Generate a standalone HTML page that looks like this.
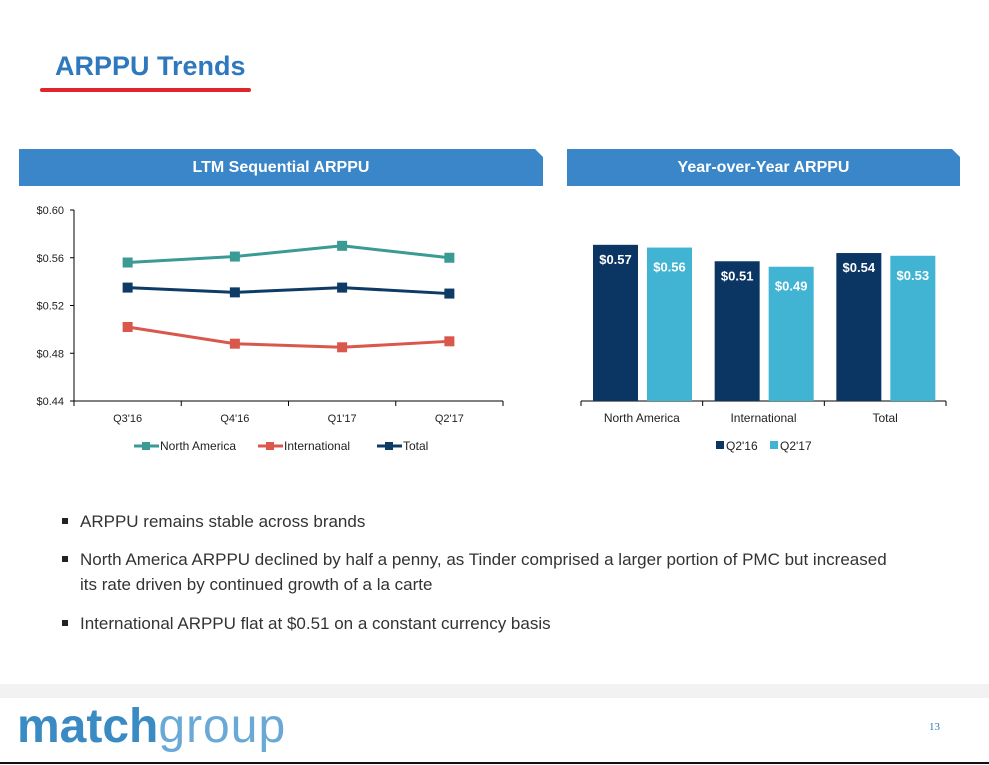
<!DOCTYPE html>
<html><head><meta charset="utf-8"><style>
body{margin:0;width:989px;height:765px;position:relative;background:#fff;font-family:"Liberation Sans",sans-serif;overflow:hidden}
.abs{position:absolute}
.hdr{position:absolute;top:149px;height:37px;background:#3a86c8;color:#fff;font-weight:bold;font-size:16px;line-height:37px;text-align:center;clip-path:polygon(0 0,calc(100% - 8px) 0,100% 8px,100% 100%,0 100%)}
.bul{position:absolute;left:62px;font-size:17px;color:#333;line-height:25px;width:880px}
.bul span.sq{position:absolute;left:0;top:9px;width:6px;height:6px;background:#222}
.bul div{margin-left:18px}
</style></head><body>
<div class="abs" style="left:55px;top:51px;font-size:27px;font-weight:bold;color:#2e78bd">ARPPU Trends</div>
<div class="abs" style="left:40px;top:88px;width:211px;height:4px;background:#e0262b;border-radius:2px"></div>
<div class="hdr" style="left:19px;width:524px">LTM Sequential ARPPU</div>
<div class="hdr" style="left:567px;width:393px">Year-over-Year ARPPU</div>
<svg class="abs" style="left:0;top:0" width="989" height="480" id="charts"></svg>
<div class="bul" style="top:509px"><span class="sq"></span><div>ARPPU remains stable across brands</div></div>
<div class="bul" style="top:547px"><span class="sq"></span><div>North America ARPPU declined by half a penny, as Tinder comprised a larger portion of PMC but increased<br>its rate driven by continued growth of a la carte</div></div>
<div class="bul" style="top:611px"><span class="sq"></span><div>International ARPPU flat at $0.51 on a constant currency basis</div></div>
<div class="abs" style="left:0;top:684px;width:989px;height:14px;background:#f2f2f2"></div>
<div class="abs" style="left:17px;top:699px;font-size:48px;color:#3a8bc4;letter-spacing:0px"><b>match</b><span style="font-weight:normal;color:#6aa9d6;letter-spacing:1px">group</span></div>
<div class="abs" style="left:929px;top:721px;font-size:11px;color:#2e78bd;font-family:'Liberation Serif',serif">13</div>
<div class="abs" style="left:0;top:762px;width:989px;height:2px;background:#111"></div>
<script>
const lineCats=["Q3'16","Q4'16","Q1'17","Q2'17"];
const northAmerica=[0.556,0.561,0.570,0.560];
const international=[0.502,0.488,0.485,0.490];
const total=[0.535,0.531,0.535,0.530];
const yTicks=[0.44,0.48,0.52,0.56,0.60];
const barCats=["North America","International","Total"];
const q216=[0.57,0.51,0.54];
const q217=[0.56,0.49,0.53];
const NS="http://www.w3.org/2000/svg";
const svg=document.getElementById('charts');
function mk(t,a,txt){const e=document.createElementNS(NS,t);for(const k in a)e.setAttribute(k,a[k]);if(txt!=null)e.textContent=txt;svg.appendChild(e);return e;}
const X0=74,X1=503,Y0=401,Y1=210;
const ly=v=>Y0-(v-0.44)/(0.16)*(Y0-Y1);
const step=(X1-X0)/lineCats.length;
const lx=i=>X0+step*(i+0.5);
let e=mk('line',{x1:X0,y1:Y1,x2:X0,y2:Y0,stroke:'#000'});


e=mk('line',{x1:X0,y1:Y0,x2:X1,y2:Y0,stroke:'#000'});


yTicks.forEach(t=>{mk('line',{x1:X0-4,x2:X0,y1:ly(t),y2:ly(t),stroke:'#000'});
 e=mk('text',{x:X0-10,y:ly(t)+4,'text-anchor':'end','font-size':11,fill:'#222'},'$'+t.toFixed(2));
 
 });
for(let i=0;i<=lineCats.length;i++)mk('line',{x1:X0+step*i,x2:X0+step*i,y1:Y0,y2:Y0+5,stroke:'#000'});
lineCats.forEach((c,i)=>{e=mk('text',{x:lx(i),y:Y0+21,'text-anchor':'middle','font-size':11,fill:'#222'},c);
 
 });
const series=[[northAmerica,'#3a9a94','north-america'],[international,'#d9574b','international'],[total,'#0e3a66','total']];
series.forEach(([d,col,n])=>{
 e=mk('polyline',{points:d.map((v,i)=>lx(i)+','+ly(v)).join(' '),fill:'none',stroke:col,'stroke-width':3});
 
 
 d.forEach((v,i)=>{e=mk('rect',{x:lx(i)-5,y:ly(v)-5,width:10,height:10,fill:col});
  
  });
});
const leg=[['North America',134],['International',258],['Total',377]];
series.forEach(([d,col,n],k)=>{const x=leg[k][1];
 mk('line',{x1:x,x2:x+25,y1:446,y2:446,stroke:col,'stroke-width':3});
 mk('rect',{x:x+8,y:442,width:8,height:8,fill:col});
 e=mk('text',{x:x+26,y:450,'font-size':12,fill:'#222'},leg[k][0]);
 
 });
const BX0=581,BX1=946,BY0=401,scale=274;
const gw=(BX1-BX0)/barCats.length;
const by=v=>BY0-v*scale;
e=mk('line',{x1:BX0,x2:BX1,y1:BY0,y2:BY0,stroke:'#000'});


for(let i=0;i<=barCats.length;i++)mk('line',{x1:BX0+gw*i,x2:BX0+gw*i,y1:BY0,y2:BY0+5,stroke:'#000'});
barCats.forEach((c,i)=>{const gx=BX0+gw*i;
 [[q216,'#0b3563',12],[q217,'#41b4d3',66]].forEach(([d,col,off],s)=>{
  const v=d[i];
  e=mk('rect',{x:gx+off,y:by(v),width:45,height:v*scale,fill:col});
  
  
  e=mk('text',{x:gx+off+22.5,y:by(v)+(s?24:19),'text-anchor':'middle','font-size':13,'font-weight':'bold',fill:'#fff'},'$'+v.toFixed(2));
  
  
 });
 e=mk('text',{x:gx+gw/2,y:BY0+21,'text-anchor':'middle','font-size':12,fill:'#222'},c);
 
 
});
[['Q2\'16','#0b3563',716],['Q2\'17','#41b4d3',770]].forEach(([t,col,x])=>{
 mk('rect',{x:x,y:441,width:8,height:8,fill:col});
 e=mk('text',{x:x+10,y:450,'font-size':12,fill:'#222'},t);
 
 });
</script>
</body></html>
